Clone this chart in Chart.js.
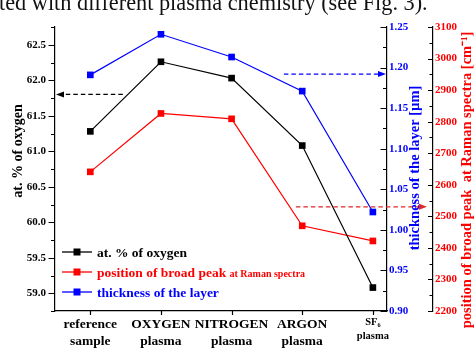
<!DOCTYPE html>
<html>
<head>
<meta charset="utf-8">
<script src="https://cdn.jsdelivr.net/npm/chart.js@4/dist/chart.umd.min.js"></script>
<style>
  html, body { margin: 0; padding: 0; background: #fff; }
  #wrap { width: 474px; height: 349px; position: relative; overflow: hidden; }
</style>
</head>
<body>
<div id="wrap"><canvas id="c" width="474" height="349"></canvas></div>
<script>
// Samples along the x axis (two-line labels)
const categories = [
  ['reference', 'sample'],
  ['OXYGEN', 'plasma'],
  ['NITROGEN', 'plasma'],
  ['ARGON', 'plasma'],
  ['SF\u2086', 'plasma']
];

// Measured series
const oxygenPct = [61.28, 62.26, 62.03, 61.08, 59.08];   // at. % of oxygen (left axis)
const ramanPeak = [2641, 2826, 2809, 2470, 2422];        // broad peak position, cm^-1 (outer right axis)
const thickness = [1.191, 1.241, 1.213, 1.171, 1.022];   // layer thickness, µm (inner right axis)

// Axis tick labels
const oxygenTicks = [59.0, 59.5, 60.0, 60.5, 61.0, 61.5, 62.0, 62.5];
const thicknessTicks = [0.90, 0.95, 1.00, 1.05, 1.10, 1.15, 1.20, 1.25];
const ramanTicks = [2200, 2300, 2400, 2500, 2600, 2700, 2800, 2900, 3000, 3100];

// Levels marked by the dashed arrows
const oxygenArrowLevel = 61.8;
const thicknessArrowLevel = 1.192;
const ramanArrowLevel = 2530;

const SERIF = '"Liberation Serif", "Times New Roman", serif';
const BLACK = '#000000';
const RED = '#ff0000';
const BLUE = '#0000ff';

const toPoints = arr => arr.map((v, i) => ({ x: i, y: v }));

function series(label, data, color, axis) {
  return {
    label, data: toPoints(data), yAxisID: axis,
    borderColor: color, backgroundColor: color, borderWidth: 1.2,
    pointStyle: 'rect', pointRadius: 4.7, pointHoverRadius: 4.7,
    pointBorderWidth: 0, tension: 0
  };
}

function arrow(ctx, x1, x2, y, color) {
  ctx.save();
  ctx.strokeStyle = color;
  ctx.fillStyle = color;
  ctx.lineWidth = 1.2;
  ctx.setLineDash([4.5, 3]);
  const dir = Math.sign(x2 - x1);
  ctx.beginPath();
  ctx.moveTo(x1, y);
  ctx.lineTo(x2 - dir * 6, y);
  ctx.stroke();
  ctx.setLineDash([]);
  ctx.beginPath();
  ctx.moveTo(x2, y);
  ctx.lineTo(x2 - dir * 8, y - 3);
  ctx.lineTo(x2 - dir * 8, y + 3);
  ctx.closePath();
  ctx.fill();
  ctx.restore();
}

function vText(ctx, text, x, y, font, color) {
  ctx.save();
  ctx.translate(x, y);
  ctx.rotate(-Math.PI / 2);
  ctx.font = font;
  ctx.fillStyle = color;
  ctx.textAlign = 'center';
  ctx.textBaseline = 'middle';
  ctx.fillText(text, 0, 0);
  ctx.restore();
}

const decorations = {
  id: 'decorations',
  afterDatasetsDraw(chart) {
    const ctx = chart.ctx;
    const { x, y, yb, yr } = chart.scales;
    const bottom = chart.chartArea.bottom;

    ctx.save();
    ctx.strokeStyle = BLACK;
    ctx.lineWidth = 1.2;
    ctx.beginPath();
    // left axis: outward ticks every 0.25
    for (let v = 58.75; v <= 62.751; v += 0.25) {
      const p = Math.round(y.getPixelForValue(v)) + 0.5;
      const major = Math.abs(v * 2 - Math.round(v * 2)) < 1e-6;
      ctx.moveTo(y.right, p); ctx.lineTo(y.right - (major ? 6.5 : 4), p);
    }
    // thickness axis: inward ticks every 0.025
    for (let v = 0.90; v <= 1.2501; v += 0.025) {
      const p = Math.round(yb.getPixelForValue(v)) + 0.5;
      const major = Math.abs(v * 20 - Math.round(v * 20)) < 1e-6;
      ctx.moveTo(yb.left, p); ctx.lineTo(yb.left - (major ? 6.5 : 4), p);
    }
    // raman axis: ticks every 50
    for (let v = 2200; v <= 3100; v += 50) {
      const p = Math.round(yr.getPixelForValue(v)) + 0.5;
      const major = v % 100 === 0;
      ctx.moveTo(yr.left, p); ctx.lineTo(yr.left - (major ? 5 : 3.5), p);
    }
    // x axis: outward ticks at the samples
    for (let i = 0; i < categories.length; i++) {
      const p = Math.round(x.getPixelForValue(i)) + 0.5;
      ctx.moveTo(p, bottom); ctx.lineTo(p, bottom + 4);
    }
    ctx.stroke();
    ctx.restore();

    // dashed arrows pointing to the axis each series belongs to
    arrow(ctx, x.getPixelForValue(0.46), y.right + 1, y.getPixelForValue(oxygenArrowLevel), BLACK);
    arrow(ctx, x.getPixelForValue(2.74), yb.left - 1, yb.getPixelForValue(thicknessArrowLevel), BLUE);
    arrow(ctx, x.getPixelForValue(2.91), yr.left - 6, yr.getPixelForValue(ramanArrowLevel), '#e02828');

    // axis titles
    vText(ctx, 'at. % of oxygen', 18, 151, 'bold 14px ' + SERIF, BLACK);
    vText(ctx, 'thickness of the layer [\u00b5m]', 415, 168, 'bold 14.5px ' + SERIF, BLUE);
    vText(ctx, 'position of broad peak  at Raman spectra [cm\u207b\u00b9]', 467, 180, 'bold 14.5px ' + SERIF, RED);

    // legend
    const rows = [
      { color: BLACK, parts: [['at. % of oxygen', 13.5]] },
      { color: RED, parts: [['position of broad peak ', 13.5], ['at Raman spectra', 10]] },
      { color: BLUE, parts: [['thickness of the layer', 13.5]] }
    ];
    rows.forEach((r, k) => {
      const ly = 252 + k * 20;
      ctx.save();
      ctx.strokeStyle = r.color; ctx.fillStyle = r.color; ctx.lineWidth = 1.3;
      ctx.beginPath(); ctx.moveTo(62, ly); ctx.lineTo(92, ly); ctx.stroke();
      ctx.fillRect(73.5, ly - 3.5, 7, 7);
      let tx = 97;
      ctx.textBaseline = 'alphabetic';
      r.parts.forEach(([t, s]) => {
        ctx.font = 'bold ' + s + 'px ' + SERIF;
        ctx.fillText(t, tx, ly + 4.5);
        tx += ctx.measureText(t).width;
      });
      ctx.restore();
    });

    // running text above the figure
    ctx.save();
    ctx.font = '22.3px ' + SERIF;
    ctx.fillStyle = '#111';
    ctx.textBaseline = 'alphabetic';
    ctx.fillText('ted with different plasma chemistry (see Fig. 3).', -1, 10);
    ctx.restore();
  }
};

new Chart(document.getElementById('c'), {
  type: 'line',
  data: {
    datasets: [
      series('thickness of the layer', thickness, BLUE, 'yb'),
      series('at. % of oxygen', oxygenPct, BLACK, 'y'),
      series('position of broad peak at Raman spectra', ramanPeak, RED, 'yr')
    ]
  },
  options: {
    responsive: false,
    devicePixelRatio: 1,
    animation: false,
    layout: { padding: { top: 27, left: 0, right: 0, bottom: 0 } },
    plugins: { legend: { display: false }, tooltip: { enabled: false } },
    scales: {
      x: {
        type: 'linear', min: -0.5, max: 4.2,
        afterBuildTicks: s => { s.ticks = categories.map((c, i) => ({ value: i })); },
        ticks: {
          autoSkip: false, maxRotation: 0, padding: 4.5, color: BLACK,
          callback: v => categories[v],
          font: c => ({ family: SERIF, weight: 'bold', size: c.index === 4 ? 10.5 : 13.5, lineHeight: 1.3 })
        },
        grid: { display: false, drawTicks: false },
        border: { display: true, color: BLACK, width: 1.2 },
        afterFit: s => { s.height = 38; }
      },
      y: {
        position: 'left', min: 58.75, max: 62.75,
        afterBuildTicks: s => { s.ticks = oxygenTicks.map(v => ({ value: v })); },
        ticks: { callback: v => v.toFixed(1), color: BLACK, padding: 9,
                 font: { family: SERIF, weight: 'bold', size: 11 } },
        grid: { display: false, drawTicks: false },
        border: { display: true, color: BLACK, width: 1.2 },
        afterFit: s => { s.width = 55; }
      },
      yb: {
        position: 'right', weight: 0, min: 0.90, max: 1.25,
        afterBuildTicks: s => { s.ticks = thicknessTicks.map(v => ({ value: v })); },
        ticks: { callback: v => v.toFixed(2), color: BLUE, padding: 2,
                 font: { family: SERIF, weight: 'bold', size: 11 } },
        grid: { display: false, drawTicks: false },
        border: { display: true, color: BLACK, width: 1.2 },
        afterFit: s => { s.width = 46; }
      },
      yr: {
        position: 'right', weight: 1, min: 2200, max: 3100,
        afterBuildTicks: s => { s.ticks = ramanTicks.map(v => ({ value: v })); },
        ticks: { callback: v => String(v), color: RED, padding: 2,
                 font: { family: SERIF, weight: 'bold', size: 11 } },
        grid: { display: false, drawTicks: false },
        border: { display: true, color: BLACK, width: 1.2 },
        afterFit: s => { s.width = 41; }
      }
    }
  },
  plugins: [decorations]
});
</script>
</body>
</html>
